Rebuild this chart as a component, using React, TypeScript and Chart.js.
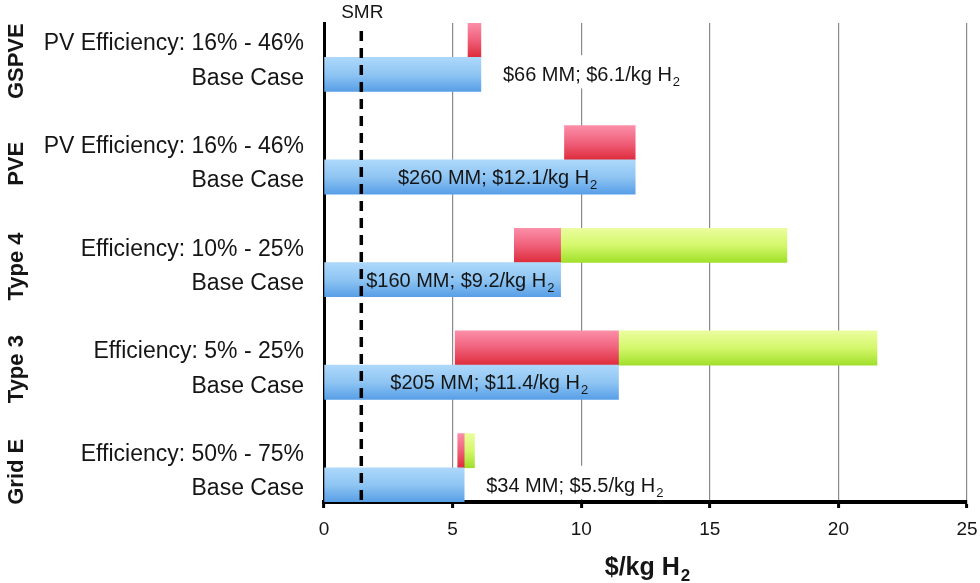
import { useEffect, useRef } from 'react'
import { Chart, registerables } from 'chart.js'
import type { Plugin, ScriptableContext } from 'chart.js'

Chart.register(...registerables)

// --- data ---
const groups = ['GSPVE', 'PVE', 'Type 4', 'Type 3', 'Grid E']
const sensitivityLabels = [
  'PV Efficiency: 16% - 46%',
  'PV Efficiency: 16% - 46%',
  'Efficiency: 10% - 25%',
  'Efficiency: 5% - 25%',
  'Efficiency: 50% - 75%',
]
const baseCost = [6.1, 12.1, 9.2, 11.45, 5.45]
const lowCost = [5.6, 9.35, 7.4, 5.1, 5.2]
const highCost: (number | null)[] = [null, null, 18.0, 21.5, 5.85]
const capitalCost = ['$66 MM', '$260 MM', '$160 MM', '$205 MM', '$34 MM']
const unitCost = ['$6.1', '$12.1', '$9.2', '$11.4', '$5.5']
const smrCost = 1.45

const FONT = "'Liberation Sans', Arial, Helvetica, sans-serif"
const TEXT = '#151515'

// rows: sensitivity row, base case row, spacer (none after the last group)
const rowLabels = groups
  .flatMap((_, g) => [sensitivityLabels[g], 'Base Case', ''])
  .slice(0, -1)

const baseRows = rowLabels.map((_, i) => {
  const g = Math.floor(i / 3)
  return i % 3 === 1 ? [0, baseCost[g]] : null
})
const lowRows = rowLabels.map((_, i) => {
  const g = Math.floor(i / 3)
  return i % 3 === 0 ? [lowCost[g], baseCost[g]] : null
})
const highRows = rowLabels.map((_, i) => {
  const g = Math.floor(i / 3)
  const h = highCost[g]
  return i % 3 === 0 && h != null ? [baseCost[g], h] : null
})

function barGradient(top: string, mid: string, bottom: string) {
  return (c: ScriptableContext<'bar'>) => {
    const chart = c.chart
    const y = chart.scales.y
    if (c.type !== 'data' || !y || !chart.chartArea) return mid
    const rowH = (y.bottom - y.top) / rowLabels.length
    const cy = y.getPixelForValue(c.dataIndex)
    const g = chart.ctx.createLinearGradient(0, cy - rowH / 2, 0, cy + rowH / 2)
    g.addColorStop(0, top)
    g.addColorStop(0.5, mid)
    g.addColorStop(1, bottom)
    return g
  }
}

function drawSub(ctx: CanvasRenderingContext2D, main: string, x: number, y: number, size: number, weight = '') {
  ctx.font = `${weight} ${size}px ${FONT}`
  ctx.fillText(main, x, y)
  const mw = ctx.measureText(main).width
  ctx.font = `${weight} ${Math.round(size * 0.66)}px ${FONT}`
  ctx.fillText('2', x + mw + 1, y + size * 0.25)
}

function subWidth(ctx: CanvasRenderingContext2D, main: string, size: number, weight = '') {
  ctx.font = `${weight} ${size}px ${FONT}`
  const mw = ctx.measureText(main).width
  ctx.font = `${weight} ${Math.round(size * 0.66)}px ${FONT}`
  return mw + 1 + ctx.measureText('2').width
}

const overlay: Plugin<'bar'> = {
  id: 'overlay',
  afterDatasetsDraw(chart) {
    const { ctx, chartArea } = chart
    const x = chart.scales.x
    const y = chart.scales.y
    const rowH = (y.bottom - y.top) / rowLabels.length

    // SMR reference line
    const sx = x.getPixelForValue(smrCost)
    ctx.save()
    ctx.strokeStyle = '#000'
    ctx.lineWidth = 3.5
    ctx.setLineDash([10, 7])
    ctx.beginPath()
    ctx.moveTo(sx, chartArea.top + 8)
    ctx.lineTo(sx, chartArea.bottom)
    ctx.stroke()
    ctx.restore()

    // cost labels on the base case bars
    ctx.save()
    ctx.fillStyle = TEXT
    ctx.textAlign = 'left'
    ctx.textBaseline = 'alphabetic'
    groups.forEach((_, g) => {
      const cy = y.getPixelForValue(g * 3 + 1)
      const x0 = x.getPixelForValue(0)
      const x1 = x.getPixelForValue(baseCost[g])
      const main = `${capitalCost[g]}; ${unitCost[g]}/kg H`
      const w = subWidth(ctx, main, 20)
      let left: number
      if (w + 20 < x1 - x0) {
        left = (x0 + x1) / 2 + 18 - w / 2
      } else {
        left = x1 + 22
        ctx.fillStyle = '#fff'
        ctx.fillRect(left - 4, cy - rowH / 2 - 2, w + 8, rowH - 1)
        ctx.fillStyle = TEXT
      }
      drawSub(ctx, main, left, cy + 7, 20)
    })
    ctx.restore()
  },
  afterDraw(chart) {
    const { ctx, chartArea } = chart
    const x = chart.scales.x
    const y = chart.scales.y
    const rowH = (y.bottom - y.top) / rowLabels.length

    ctx.save()
    ctx.fillStyle = TEXT

    // rotated group names
    ctx.font = `bold 22px ${FONT}`
    ctx.textAlign = 'center'
    ctx.textBaseline = 'alphabetic'
    groups.forEach((name, g) => {
      const cy = y.getPixelForValue(g * 3) + rowH / 2 + 4
      ctx.save()
      ctx.translate(23, cy)
      ctx.rotate(-Math.PI / 2)
      ctx.fillText(name, 0, 0)
      ctx.restore()
    })

    // SMR label
    ctx.font = `19px ${FONT}`
    ctx.fillText('SMR', x.getPixelForValue(smrCost) + 1, 18)

    // x axis title
    ctx.textAlign = 'left'
    const title = '$/kg H'
    const tw = subWidth(ctx, title, 25, 'bold')
    drawSub(ctx, title, (chartArea.left + chartArea.right) / 2 - tw / 2 + 2, 575, 25, 'bold')
    ctx.restore()
  },
}

export default function App() {
  const canvasRef = useRef<HTMLCanvasElement>(null)
  const chartRef = useRef<Chart | null>(null)

  useEffect(() => {
    document.body.style.margin = '0'
    if (!canvasRef.current) return
    const ctx = canvasRef.current.getContext('2d')
    if (!ctx) return

    if (chartRef.current) chartRef.current.destroy()

    chartRef.current = new Chart(ctx, {
      type: 'bar',
      data: {
        labels: rowLabels,
        datasets: [
          {
            label: 'Base Case',
            data: baseRows as any,
            backgroundColor: barGradient('#add8fb', '#8fc5f3', '#589fe7'),
          },
          {
            label: 'Low',
            data: lowRows as any,
            backgroundColor: barGradient('#fb8ea8', '#f0607a', '#dd2c3b'),
          },
          {
            label: 'High',
            data: highRows as any,
            backgroundColor: barGradient('#ebfd9e', '#d4f76c', '#a0e02a'),
          },
        ].map((ds) => ({
          ...ds,
          grouped: false,
          barPercentage: 1,
          categoryPercentage: 1,
          borderWidth: 0,
          borderSkipped: false,
        })),
      },
      options: {
        indexAxis: 'y',
        responsive: false,
        animation: false,
        layout: { padding: { top: 23, right: 13, bottom: 0, left: 0 } },
        plugins: {
          legend: { display: false },
          tooltip: { enabled: false },
        },
        scales: {
          x: {
            type: 'linear',
            min: 0,
            max: 25,
            ticks: {
              stepSize: 5,
              color: TEXT,
              font: { family: FONT, size: 19 },
              padding: 10,
            },
            grid: {
              color: '#8a8a8a',
              lineWidth: 1.2,
              tickLength: 6,
              tickColor: '#000',
              tickWidth: 3,
            },
            border: { color: '#000', width: 4 },
            afterFit: (s) => {
              s.height = 81
              s.paddingLeft = 0
              s.paddingRight = 0
            },
          },
          y: {
            type: 'category',
            ticks: {
              color: TEXT,
              font: { family: FONT, size: 23 },
              padding: 20,
              labelOffset: 4,
              autoSkip: false,
            },
            grid: { display: false, drawTicks: false },
            border: { display: true, color: '#000', width: 3 },
            afterFit: (s) => {
              s.width = 324
              s.paddingTop = 0
              s.paddingBottom = 0
            },
          },
        },
      },
      plugins: [overlay],
    })

    return () => {
      chartRef.current?.destroy()
      chartRef.current = null
    }
  }, [])

  return (
    <div style={{ width: 980, height: 583 }}>
      <canvas ref={canvasRef} width={980} height={583} />
    </div>
  )
}
